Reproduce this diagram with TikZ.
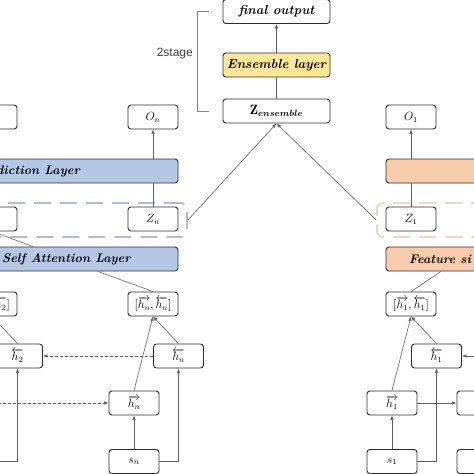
\documentclass[tikz,border=0pt]{standalone}
\usepackage{xcolor}
\usepackage{bm}
\usepackage{fontspec}
\newfontfamily\stagefont{Liberation Sans}
\usetikzlibrary{arrows.meta,
                calc,
                positioning}

\definecolor{boxc}{RGB}{45,45,45}
\definecolor{linec}{RGB}{95,95,95}
\definecolor{bluef}{RGB}{180,199,231}
\definecolor{orangef}{RGB}{248,203,173}
\definecolor{yellowf}{RGB}{255,230,153}
\definecolor{bluedash}{RGB}{172,187,214}
\definecolor{orangedash}{RGB}{246,212,188}

\tikzset{
  box/.style={draw=boxc, line width=0.9pt, rounded corners=3pt, fill=white,
              minimum width=50pt, minimum height=24pt, inner sep=0pt,
              font=\fontsize{12}{14}\selectfont},
  layer/.style={box, font=\fontsize{13}{15}\selectfont\bfseries\itshape},
  lbl/.style={inner sep=0pt, font=\fontsize{12.5}{14}\selectfont\bfseries\itshape},
  group/.style={line width=1.8pt, dash pattern=on 17pt off 9pt,
                rounded corners=6pt, minimum height=34pt, inner sep=0pt},
  conn/.style={draw=linec, line width=0.6pt},
  arr/.style={conn, -{Latex[length=4.5pt,width=3.5pt]}},
  dasharr/.style={arr, dash pattern=on 3pt off 2pt},
}

\begin{document}
\begin{tikzpicture}[x=1pt, y=-1pt]
\useasboundingbox (0,0) rectangle (474,474);
\clip (0,0) rectangle (474,474);

\node[layer, minimum width=107pt] (fout) at (276.5,11.5) {final output};
\node[layer, fill=yellowf, minimum width=107pt] (ens) at (276.5,65) {Ensemble layer};
\node[box, minimum width=107pt, font=\fontsize{13.5}{15}\selectfont] (zens) at (276.5,111) {$\mathbf{Z}_{\bm{ensemble}}$};
\draw[conn] (zens) -- (ens);
\draw[arr] (ens) -- (fout);

\draw[conn, draw=gray] ([xshift=-14pt]fout.west) -- ++(-11,0) |- ([xshift=-14pt]zens.west);
\node[anchor=east, inner sep=0pt, text=darkgray, font=\stagefont\fontsize{12}{14}\selectfont] (stage) at (193,54) {2stage};

\node[group, draw=bluedash, minimum width=207pt] (gn) at (83.5,220) {};
\node[group, draw=orangedash, minimum width=143pt] (g1) at (448.5,220) {};
\draw[arr] (gn.east) -- (zens.south);
\draw[arr] (g1.west) -- (zens.south);

\node[box, fill=bluef, minimum width=300pt] (predn) at (28,171) {};
\node[lbl, anchor=east] (predtxt) at (80,171.5) {Prediction Layer};
\node[box, fill=bluef, minimum width=225pt] (saln) at (65.5,259) {};
\node[lbl, anchor=west] (saltxt) at (2,259.5) {Self Attention Layer};
\node[box, fill=orangef, minimum width=134pt] (pred1) at (453,171) {};
\node[box, fill=orangef, minimum width=134pt] (feat1) at (453,259) {};
\node[lbl, anchor=west] (feattxt) at (409,259.5) {Feature si};

\foreach \c/\i in {153/n, -8/2, 411/1} {
  \node[box] (o\i) at (\c,117) {$O_{\i}$};
  \node[box] (z\i) at (\c,219) {$Z_{\i}$};
  \node[box] (c\i) at (\c,304) {$[\overrightarrow{h_{\i}},\overleftarrow{h_{\i}}]$};
  \node[box] (b\i) at (\c+25.5,356) {$\overleftarrow{h_{\i}}$};
  \node[box] (f\i) at (\c-19,403) {$\overrightarrow{h_{\i}}$};
  \node[box] (s\i) at (\c-19,461.5) {$s_{\i}$};
  \draw[arr] (f\i.north) -- (c\i.south);
  \draw[arr] (b\i.north) -- (c\i.south);
  \draw[arr] (s\i) -- (f\i);
  \draw[arr] (s\i.east) -| (b\i.south);
}
\node[box] (fr2) at (482,403) {};
\node[box] (sr2) at (482,461.5) {};
\node[box] (br2) at (526.5,356) {};

\draw[conn] (zn) -- (zn |- predn.south);
\draw[arr] (zn |- predn.north) -- (on);
\draw[conn] (z1) -- (z1 |- pred1.south);
\draw[arr] (z1 |- pred1.north) -- (o1);

\draw[conn] ([xshift=32.5pt]saln.south) -- (cn.north);
\draw[conn] ([xshift=-32.5pt]saln.north) -- (z2.south);
\draw[conn] ([xshift=-12pt]feat1.south) -- (c1.north);

\draw[dasharr] (bn) -- (b2);
\draw[dasharr] (f2) -- (fn);
\draw[arr] (f1) -- (fr2);
\draw[arr] (br2) -- (b1);
\end{tikzpicture}
\end{document}
